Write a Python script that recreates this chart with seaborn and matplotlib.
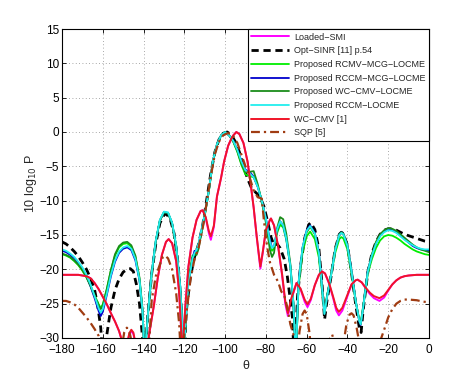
import numpy as np
import pandas as pd
import matplotlib
matplotlib.use('Agg')
import matplotlib.pyplot as plt
import seaborn as sns

# angle grid shared by the four proposed methods
theta_prop = [-180, -178, -176, -174, -172, -170, -168, -166, -164, -162,
              -161, -160, -158, -156, -154, -152, -150, -148, -146, -144,
              -142, -140.5, -139.5, -138, -136, -134, -132, -130, -128, -126,
              -124, -122, -121, -120.3, -119, -118, -116, -115, -114, -113,
              -112, -110, -108, -106, -104, -102, -100, -98, -96, -94,
              -92, -90, -88, -86, -84, -82, -80, -78, -77, -76,
              -74.5, -73, -71.5, -70, -68, -66.5, -65.3, -64, -62, -60,
              -58.3, -56, -54, -52.5, -51.3, -50, -48, -46, -44, -43,
              -42, -40, -38, -36, -34.2, -33.5, -32.5, -30, -28, -26,
              -24, -22, -20, -18, -16, -14, -12, -10, -8, -6,
              -4, -2, 0]

rccm_locme = [-17.1, -17.3, -17.7, -18.2, -18.9, -19.7, -20.8, -22.2, -23.9, -25.7,
              -26.3, -25.8, -23.5, -20.8, -18.7, -17.4, -16.8, -16.6, -17.0, -18.5,
              -21.5, -26.0, -33.0, -27.0, -20.5, -15.8, -12.8, -11.6, -11.7, -13.2,
              -16.5, -22.5, -28.0, -33.0, -26.0, -22.0, -18.5, -17.6, -17.2, -16.2,
              -14.8, -12.0, -8.6, -4.2, -1.8, -0.5, 0.0, -0.5, -1.3, -2.6,
              -4.3, -5.6, -6.0, -6.6, -8.0, -10.0, -12.6, -16.0, -16.9, -16.6,
              -14.2, -13.0, -13.6, -15.5, -19.5, -25.0, -33.0, -22.0, -16.8, -14.4,
              -13.7, -14.8, -17.6, -22.5, -26.5, -24.0, -20.8, -17.2, -15.0, -14.7,
              -14.9, -16.6, -20.3, -24.5, -27.5, -28.0, -26.0, -20.3, -18.0, -16.3,
              -15.2, -14.6, -14.3, -14.4, -14.7, -15.2, -15.7, -16.1, -16.5, -16.8,
              -17.0, -17.1, -17.1]

rccm_mcg = [-17.3, -17.5, -17.9, -18.4, -19.1, -19.9, -21.0, -22.5, -24.2, -26.1,
            -26.8, -26.2, -23.7, -21.0, -18.9, -17.6, -17.0, -16.8, -17.2, -18.7,
            -21.6, -26.0, -33.0, -27.0, -20.5, -15.9, -12.9, -11.7, -11.8, -13.3,
            -16.6, -22.5, -28.0, -33.0, -26.0, -22.0, -18.4, -17.3, -17.5, -16.5,
            -14.9, -12.0, -8.6, -4.2, -1.8, -0.5, 0.0, -0.5, -1.3, -2.6,
            -4.2, -5.5, -5.8, -6.5, -8.0, -10.0, -12.6, -15.8, -16.8, -16.7,
            -14.3, -13.0, -13.6, -15.5, -19.5, -25.0, -33.0, -22.0, -16.8, -14.3,
            -13.6, -14.7, -17.5, -22.5, -26.5, -24.0, -20.7, -17.1, -14.9, -14.6,
            -14.8, -16.5, -20.2, -24.5, -27.6, -28.1, -26.0, -20.2, -17.9, -16.2,
            -15.1, -14.5, -14.2, -14.3, -14.6, -15.1, -15.6, -16.1, -16.6, -16.9,
            -17.1, -17.2, -17.3]

wc_cmv_locme = [-17.7, -17.9, -18.2, -18.7, -19.3, -20.1, -21.1, -22.4, -23.9, -25.3,
                -25.8, -25.3, -22.9, -20.1, -17.8, -16.6, -16.1, -16.0, -16.5, -18.0,
                -21.2, -25.8, -33.0, -27.0, -20.6, -15.9, -12.9, -11.7, -11.8, -13.3,
                -16.7, -22.6, -28.0, -33.0, -26.0, -21.8, -18.3, -17.8, -17.9, -17.0,
                -15.2, -12.1, -8.6, -4.2, -1.8, -0.5, 0.0, -0.5, -1.4, -2.8,
                -4.6, -5.9, -5.8, -5.7, -7.6, -10.2, -13.2, -17.2, -18.2, -17.6,
                -14.0, -12.4, -12.7, -14.8, -19.2, -25.0, -33.0, -22.3, -17.0, -14.6,
                -13.8, -14.9, -17.7, -22.5, -26.5, -24.0, -20.6, -17.0, -14.9, -14.6,
                -14.8, -16.5, -20.3, -24.5, -27.5, -28.0, -26.0, -20.3, -17.8, -16.0,
                -14.9, -14.3, -14.0, -14.1, -14.4, -14.9, -15.4, -15.9, -16.4, -16.8,
                -17.1, -17.3, -17.5]

rcmv_mcg = [-17.8, -18.0, -18.3, -18.8, -19.4, -20.2, -21.2, -22.4, -23.8, -25.1,
            -25.6, -25.1, -22.8, -20.1, -18.0, -16.8, -16.3, -16.2, -16.7, -18.2,
            -21.4, -26.0, -33.0, -27.0, -20.6, -15.9, -12.9, -11.7, -11.8, -13.3,
            -16.7, -22.6, -28.0, -33.0, -26.0, -21.6, -18.0, -17.9, -17.6, -16.6,
            -15.0, -12.1, -8.7, -4.3, -1.9, -0.5, 0.0, -0.5, -1.4, -2.9,
            -4.8, -6.2, -6.4, -6.6, -7.9, -10.0, -12.8, -16.3, -17.3, -17.0,
            -14.7, -13.5, -13.9, -15.7, -19.6, -25.0, -33.0, -22.5, -17.5, -15.2,
            -14.5, -15.6, -18.3, -23.0, -26.2, -23.8, -20.8, -17.6, -15.6, -15.3,
            -15.5, -17.1, -20.6, -24.6, -27.3, -27.8, -25.8, -20.6, -18.5, -16.9,
            -15.8, -15.2, -15.0, -15.1, -15.4, -15.8, -16.3, -16.7, -17.1, -17.4,
            -17.6, -17.8, -17.9]

# Opt-SINR
theta_opt = [-180, -178, -176, -174, -172, -170, -168, -166, -164, -162.5,
             -161, -159.8, -158.5, -157, -156, -154, -152, -150, -148, -146.5,
             -145, -143.5, -142, -140.8, -139.5, -138, -136, -134, -132, -130,
             -129, -127, -125, -123, -121.5, -120.3, -119, -117, -115, -113,
             -111, -109, -107, -105, -103, -101, -99, -97, -95, -93,
             -91, -89, -87, -85, -83, -81, -79, -77.5, -76, -74.5,
             -73, -71, -69.5, -68, -67, -66, -64.5, -63, -61, -59,
             -58, -56, -54, -52.5, -51.2, -50, -48, -46, -44, -43,
             -42, -40, -38, -36, -34.2, -33.3, -32.3, -30, -28, -26,
             -24, -22, -20, -18, -16, -14, -12, -10, -8, -6,
             -4, -2, 0]
opt_sinr = [-16.0, -16.3, -16.8, -17.4, -18.1, -19.0, -20.0, -21.3, -23.0, -25.3,
            -28.5, -34.0, -30.5, -27.5, -25.6, -23.0, -21.4, -20.4, -20.0, -19.9,
            -20.3, -22.2, -25.0, -29.0, -34.0, -27.0, -20.6, -16.3, -13.3, -12.1,
            -11.9, -12.6, -14.8, -19.3, -26.0, -34.0, -26.0, -21.0, -18.2, -16.3,
            -13.6, -9.8, -6.0, -2.9, -1.1, -0.2, 0.0, -0.4, -1.4, -2.9,
            -5.0, -6.8, -8.2, -8.8, -9.4, -10.8, -13.2, -15.3, -16.5, -16.3,
            -16.9, -18.5, -21.0, -24.5, -27.0, -34.0, -24.0, -19.5, -15.5, -13.5,
            -13.2, -14.2, -17.0, -22.0, -27.3, -24.5, -21.0, -17.0, -14.9, -14.6,
            -14.8, -16.5, -20.5, -25.0, -28.5, -29.2, -26.0, -20.4, -17.7, -16.0,
            -14.9, -14.3, -14.1, -14.1, -14.3, -14.6, -14.9, -15.1, -15.3, -15.5,
            -15.7, -15.9, -16.0]

# WC-CMV and Loaded-SMI
theta_wc = [-180, -176, -172, -168, -166, -164, -162, -160, -158, -156,
            -154, -152, -150.5, -148.5, -147, -146, -145, -143.5, -141, -138.5,
            -137, -135, -133, -131, -129, -127.7, -126, -124, -122.5, -121.5,
            -121, -120.5, -119.5, -118, -116, -114, -112, -111, -109.5, -108,
            -107, -105.5, -104, -102, -100.5, -98.5, -97, -96, -94.5, -93,
            -91, -89, -87.5, -86, -84.5, -83.5, -82.7, -81.5, -80, -78,
            -77.5, -76, -74, -72, -70.5, -69.2, -67.5, -65, -63, -61,
            -59.6, -58, -56, -54, -52.5, -51, -49, -47, -45.5, -44.2,
            -42.5, -40, -38, -36, -35, -33, -31, -29, -27, -24.3,
            -22, -20, -18, -16, -14, -12, -10, -6, -3, 0]
wc_cmv = [-20.8, -20.8, -20.8, -21.0, -21.3, -22.0, -22.9, -24.0, -25.1, -26.4,
          -27.6, -29.0, -30.5, -31.5, -29.3, -28.8, -29.2, -31.5, -34.0, -32.0,
          -29.0, -25.4, -21.2, -17.9, -16.0, -15.6, -16.2, -18.8, -23.5, -29.0,
          -34.0, -30.0, -25.4, -19.6, -15.4, -12.8, -11.5, -11.4, -12.4, -14.4,
          -15.2, -13.6, -9.4, -6.7, -4.3, -2.0, -1.0, -0.5, 0.0, -0.3,
          -1.6, -4.3, -7.5, -11.0, -15.2, -17.7, -19.6, -17.4, -14.3, -12.8,
          -12.6, -13.6, -16.6, -20.8, -24.6, -26.4, -24.2, -22.0, -22.8, -24.4,
          -25.1, -24.3, -22.3, -20.8, -20.3, -20.6, -22.0, -24.0, -25.6, -26.2,
          -25.6, -23.7, -22.2, -21.6, -21.5, -21.9, -22.7, -23.4, -23.9, -24.2,
          -23.8, -23.0, -22.2, -21.6, -21.2, -21.0, -20.9, -20.8, -20.8, -20.8]
loaded_smi = [-20.8, -20.8, -20.8, -21.0, -21.3, -22.0, -22.9, -24.0, -25.1, -26.4,
              -27.6, -29.0, -30.5, -31.5, -29.5, -29.0, -29.4, -31.5, -34.0, -32.0,
              -29.0, -25.4, -21.2, -17.9, -16.0, -15.6, -16.2, -18.8, -23.5, -29.0,
              -34.0, -30.0, -25.4, -19.6, -15.4, -12.8, -11.5, -11.4, -12.5, -14.7,
              -15.7, -13.8, -9.4, -6.7, -4.3, -2.0, -1.0, -0.5, 0.0, -0.3,
              -1.6, -4.3, -7.5, -11.0, -15.3, -17.9, -19.9, -17.5, -14.3, -12.8,
              -12.6, -13.6, -16.7, -21.0, -25.0, -26.8, -24.4, -22.0, -22.9, -24.7,
              -25.5, -24.5, -22.3, -20.8, -20.3, -20.6, -22.1, -24.2, -26.0, -26.7,
              -26.0, -23.9, -22.2, -21.6, -21.5, -21.9, -22.8, -23.6, -24.2, -24.6,
              -24.1, -23.1, -22.2, -21.6, -21.2, -21.0, -20.9, -20.8, -20.8, -20.8]

# SQP
theta_sqp = [-180, -178, -176, -174, -172, -170, -168, -166, -164, -162,
             -160.5, -158, -151, -149.5, -148.2, -147, -145.5, -143, -137.5, -136,
             -134, -132, -130.5, -129.5, -128, -126, -124, -122.5, -121.5, -119,
             -117, -115, -113, -111, -109, -107, -105, -103, -101, -99,
             -97.5, -96, -94, -92, -90, -88, -86, -84, -82, -81,
             -79.5, -78, -76, -74, -72.5, -71, -69.5, -68, -66.5, -65,
             -63.5, -62, -61, -60, -58.5, -57.5, -50, -48.5, -47.5, -46.5,
             -45, -42, -40.5, -39, -38, -37, -35.5, -34, -33, -26,
             -24, -22, -20, -18, -16, -14, -12, -10, -6, -3,
             0]
sqp = [-24.6, -24.6, -24.8, -25.1, -25.6, -26.3, -27.0, -27.8, -28.7, -29.7,
       -31.0, -34.0, -32.0, -29.2, -28.5, -29.0, -31.0, -34.0, -32.0, -24.5,
       -21.0, -19.3, -18.2, -18.0, -18.4, -20.0, -23.5, -28.0, -34.0, -26.5,
       -21.5, -18.5, -16.8, -14.0, -10.2, -6.4, -3.2, -1.4, -0.5, -0.2,
       -0.2, -0.6, -1.6, -3.3, -5.0, -6.6, -8.5, -9.5, -9.7, -12.8,
       -16.5, -19.0, -20.8, -21.8, -23.2, -23.8, -25.5, -28.0, -29.5, -34.0,
       -29.0, -26.5, -26.0, -26.5, -29.5, -34.0, -34.0, -30.0, -29.5, -30.5,
       -34.0, -31.0, -28.0, -26.6, -26.4, -26.7, -28.5, -31.0, -34.0, -34.0,
       -30.5, -28.8, -27.0, -25.8, -25.0, -24.6, -24.4, -24.4, -24.5, -24.7,
       -24.8]

series = [
    ("Loaded\u2212SMI", theta_wc, loaded_smi, "#ff00ff", "-", 1.4),
    ("Opt\u2212SINR [11] p.54", theta_opt, opt_sinr, "black", (0, (2.6, 1.7)), 2.0),
    ("Proposed RCMV\u2212MCG\u2212LOCME", theta_prop, rcmv_mcg, "#00ee00", "-", 1.3),
    ("Proposed RCCM\u2212MCG\u2212LOCME", theta_prop, rccm_mcg, "#0000cc", "-", 1.3),
    ("Proposed WC\u2212CMV\u2212LOCME", theta_prop, wc_cmv_locme, "#1a8c1a", "-", 1.3),
    ("Proposed RCCM\u2212LOCME", theta_prop, rccm_locme, "#22eeee", "-", 1.3),
    ("WC\u2212CMV [1]", theta_wc, wc_cmv, "#f01428", "-", 1.4),
    ("SQP [5]", theta_sqp, sqp, "#a03c12", (0, (4, 1.8, 1, 1.8)), 1.6),
]

sns.set_theme(style="white")
plt.rcParams['font.family'] = ['Liberation Sans', 'DejaVu Sans']

fig = plt.figure(figsize=(4.74, 3.80), dpi=100)
ax = fig.add_axes([62 / 474, 1 - 338 / 380, (429 - 62) / 474, (338 - 29) / 380])

for label, th, vals, color, ls, lw in series:
    df = pd.DataFrame({"theta": th, "P": vals})
    sns.lineplot(data=df, x="theta", y="P", ax=ax, color=color, linestyle=ls,
                 linewidth=lw, label=label, sort=False)

ax.set_xlim(-180, 0)
ax.set_ylim(-30, 15)
ax.set_xticks(np.arange(-180, 1, 20))
ax.set_yticks(np.arange(-30, 16, 5))
ax.grid(True, linestyle=(0, (1, 3)), color="#8c8c8c", linewidth=0.6)
ax.tick_params(direction="in", length=3, width=0.6, labelsize=8.5, colors="black",
               top=True, right=True, bottom=True, left=True, pad=2)
ax.tick_params(axis="x", pad=4)
for sp in ax.spines.values():
    sp.set_color("black")
    sp.set_linewidth(0.8)

ax.set_xlabel("\u03b8", fontsize=9, labelpad=3)
ax.set_ylabel("10 log$_{10}$ P", fontsize=9, labelpad=0)

leg = ax.legend(loc="upper right", bbox_to_anchor=(1.0, 1.0), fontsize=6.5,
                frameon=True, fancybox=False, framealpha=1, edgecolor="black",
                borderaxespad=0, handlelength=4.2, labelspacing=0.52,
                borderpad=0.4, handletextpad=0.5)
leg.get_frame().set_linewidth(0.8)

plt.savefig("out.png", dpi=100)
plt.close()
